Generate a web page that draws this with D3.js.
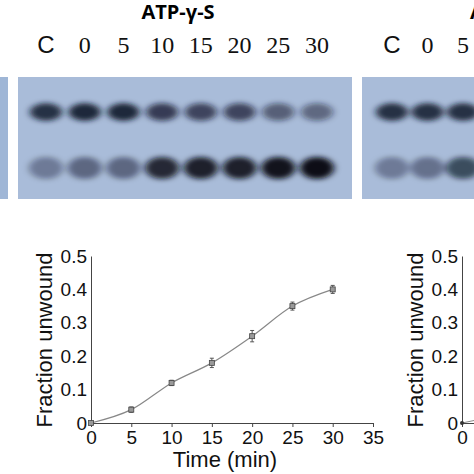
<!DOCTYPE html>
<html>
<head>
<script src="https://d3js.org/d3.v7.min.js"></script>
<style>body{margin:0;background:#fff}</style>
</head>
<body>
<svg id="c" width="474" height="474"></svg>
<script>
var lanes = ["C","0","5","10","15","20","25","30"];
var upperBand = [0.85,0.9,0.9,0.75,0.7,0.7,0.55,0.5];
var lowerBand = [0.35,0.45,0.45,0.85,0.9,0.9,0.97,1.0];
var lanes2 = ["C","0","5"];
var upper2 = [0.85,0.85,0.85];
var lower2 = [0.35,0.4,0.65];
var times = [0,5,10,15,20,25,30];
var fraction = [0,0.04,0.12,0.18,0.26,0.35,0.40];
var errs = [0,0.008,0.008,0.014,0.017,0.012,0.012];
var xTicks = [0,5,10,15,20,25,30,35];
var yTicks = [0,0.1,0.2,0.3,0.4,0.5];

var svg = d3.select("#c");
var defs = svg.append("defs");
defs.append("filter").attr("id","blur").attr("x","-50%").attr("y","-80%").attr("width","200%").attr("height","260%")
  .append("feGaussianBlur").attr("stdDeviation","3.5 2.5");

// gel panels
svg.append("rect").attr("x",0).attr("y",77).attr("width",8).attr("height",122).attr("fill","#9fb6d6");
svg.append("rect").attr("x",18).attr("y",77).attr("width",334).attr("height",122).attr("fill","#a9bcd9");
svg.append("rect").attr("x",362).attr("y",77).attr("width",120).attr("height",122).attr("fill","#a9bcd9");

var lx = d3.scalePoint().domain(lanes).range([46,317]);
var lx2 = d3.scalePoint().domain(lanes2).range([392,463]);
var serif = "'Liberation Serif', serif";

function gel(scale, names, up, lo) {
  var g = svg.append("g").attr("filter","url(#blur)");
  g.selectAll("ellipse.u").data(names).join("ellipse")
    .attr("cx", d => scale(d)).attr("cy",112).attr("rx",16).attr("ry",9)
    .attr("fill","#0f1628").attr("opacity",(d,i) => up[i]);
  g.selectAll("ellipse.l").data(names).join("ellipse")
    .attr("cx", d => scale(d)).attr("cy",168).attr("rx",17).attr("ry",11)
    .attr("fill","#080c18").attr("opacity",(d,i) => lo[i]);
  svg.selectAll(null).data(names).join("text")
    .attr("x", d => scale(d)).attr("y",53).attr("text-anchor","middle")
    .attr("font-family", d => d === "C" ? "'Liberation Sans', sans-serif" : serif)
    .attr("font-size",24).attr("fill","#111").text(d => d);
}
gel(lx, lanes, upperBand, lowerBand);
gel(lx2, lanes2, upper2, lower2);

svg.append("text").attr("x",178).attr("y",19).attr("text-anchor","middle")
  .attr("font-family","'Open Sans', sans-serif").attr("font-weight","bold").attr("font-size",20).text("ATP-γ-S");
svg.append("text").attr("x",470).attr("y",19)
  .attr("font-family","'Open Sans', sans-serif").attr("font-weight","bold").attr("font-size",20).text("A");

// chart
var x = d3.scaleLinear().domain([0,35]).range([91,373]);
var y = d3.scaleLinear().domain([0,0.5]).range([423,256]);
var font = "'Liberation Sans', Arial, sans-serif";

function styleAxis(a) {
  a.select(".domain").attr("stroke","#444");
  a.selectAll("line").attr("stroke","#444");
  a.selectAll("text").attr("font-family",font).attr("font-size",19).attr("fill","#111");
}
var ax = svg.append("g").attr("transform","translate(0,423)")
  .call(d3.axisBottom(x).tickValues(xTicks).tickSize(4).tickFormat(d3.format("d")));
var ay = svg.append("g").attr("transform","translate(91,0)")
  .call(d3.axisLeft(y).tickValues(yTicks).tickSize(0).tickPadding(4).tickFormat(d => d === 0 ? "0" : d3.format(".1f")(d)));
styleAxis(ax); styleAxis(ay);
ax.selectAll("text").attr("dy","0.75em");

svg.append("text").attr("x",225).attr("y",467).attr("text-anchor","middle")
  .attr("font-family",font).attr("font-size",22).attr("fill","#111").text("Time (min)");
svg.append("text").attr("transform","translate(52,340) rotate(-90)").attr("text-anchor","middle")
  .attr("font-family",font).attr("font-size",22).attr("fill","#111").text("Fraction unwound");

var pts = times.map((t,i) => [t, fraction[i], errs[i]]);
svg.append("path").datum(pts).attr("fill","none").attr("stroke","#888").attr("stroke-width",1.2)
  .attr("d", d3.line().x(d => x(d[0])).y(d => y(d[1])).curve(d3.curveMonotoneX));
var eb = svg.selectAll("g.eb").data(pts.filter(d => d[2] > 0)).join("g");
eb.append("line").attr("x1",d => x(d[0])).attr("x2",d => x(d[0]))
  .attr("y1",d => y(d[1]+d[2])).attr("y2",d => y(d[1]-d[2])).attr("stroke","#555");
eb.append("line").attr("x1",d => x(d[0])-2).attr("x2",d => x(d[0])+2)
  .attr("y1",d => y(d[1]+d[2])).attr("y2",d => y(d[1]+d[2])).attr("stroke","#555");
eb.append("line").attr("x1",d => x(d[0])-2).attr("x2",d => x(d[0])+2)
  .attr("y1",d => y(d[1]-d[2])).attr("y2",d => y(d[1]-d[2])).attr("stroke","#555");
svg.selectAll("rect.pt").data(pts).join("rect")
  .attr("x",d => x(d[0])-2.5).attr("y",d => y(d[1])-2.5).attr("width",5).attr("height",5)
  .attr("fill","#999").attr("stroke","#444").attr("stroke-width",0.8);

// second (cut-off) chart
var x2 = d3.scaleLinear().domain([0,35]).range([462,744]);
var ay2 = svg.append("g").attr("transform","translate(462,0)")
  .call(d3.axisLeft(y).tickValues(yTicks).tickSize(0).tickPadding(4).tickFormat(d => d === 0 ? "0" : d3.format(".1f")(d)));
var ax2 = svg.append("g").attr("transform","translate(0,423)")
  .call(d3.axisBottom(x2).tickValues([0]).tickSize(4).tickFormat(d3.format("d")));
styleAxis(ax2); styleAxis(ay2);
ax2.selectAll("text").attr("dy","0.75em");
svg.append("text").attr("transform","translate(423,340) rotate(-90)").attr("text-anchor","middle")
  .attr("font-family",font).attr("font-size",22).attr("fill","#111").text("Fraction unwound");
svg.append("line").attr("x1",x2(0)).attr("y1",y(0)).attr("x2",x2(2)).attr("y2",y(0.01)).attr("stroke","#888");
svg.append("circle").attr("cx",x2(0)).attr("cy",y(0)).attr("r",2).attr("fill","#333");
</script>
</body>
</html>
